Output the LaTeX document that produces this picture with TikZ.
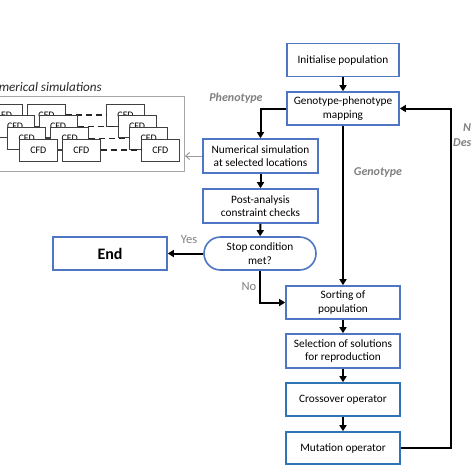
\documentclass[tikz,border=0pt]{standalone}
\usepackage{fontspec}
\setmainfont{Carlito}
\usetikzlibrary{arrows.meta,shapes.misc}
\definecolor{boxblue}{RGB}{79,118,196}
\definecolor{boxblueb}{RGB}{46,117,182}
\definecolor{lblgray}{RGB}{128,128,128}
\definecolor{cfdgray}{RGB}{64,64,64}
\tikzset{
  flowbox/.style={draw=boxblue, line width=1.6pt, fill=white, minimum width=112pt, minimum height=33pt, inner sep=1pt, align=center, font=\fontsize{11.3}{13.4}\selectfont},
  opbox/.style={flowbox, draw=boxblueb},
  decbox/.style={flowbox, rounded rectangle},
  flowarrow/.style={line width=2pt, -{Triangle[length=6pt,width=7pt]}},
  lbl/.style={text=lblgray, font=\fontsize{12}{14}\selectfont\itshape\bfseries, inner sep=0pt},
  yn/.style={text=lblgray, font=\fontsize{12.5}{14}\selectfont, inner sep=0pt},
  cfd/.style={draw=cfdgray, line width=0.9pt, fill=white, minimum width=38pt, minimum height=22pt, inner sep=0pt, font=\fontsize{10}{12}\selectfont},
  cfdtxt/.style={inner sep=0pt, font=\fontsize{10}{12}\selectfont},
  cfdline/.style={draw=cfdgray, line width=1pt},
  cfddash/.style={draw=black!85, line width=1.4pt, dash pattern=on 6pt off 4pt},
}
\begin{document}
\begin{tikzpicture}[x=1pt,y=-1pt]
\useasboundingbox (0,0) rectangle (474,474);
\clip (0,0) rectangle (474,474);
% CFD frame
\node[draw=black!35, line width=0.8pt, minimum width=213pt, minimum height=75pt, inner sep=0pt] (frame) at (78,133.5) {};
\node[anchor=east, inner sep=0pt, font=\fontsize{13.1}{15}\selectfont\itshape, text=black!85] (simtitle) at (102,86.5) {merical simulations};
% CFD stacks: back row (partly outside the picture)
\node[cfd] (a0) at (3.5,115) {};
\node[cfdtxt, anchor=base west] (a0t) at (1,118.5) {FD};
\node[cfd] (b0) at (46.5,115) {CFD};
\node[cfd] (c0) at (125.5,115) {CFD};
\draw[cfdline] (a0.east) -- (b0.west);
\draw[cfddash] (b0.east) -- (c0.west);
\foreach \k in {1,2,3}{
  \pgfmathsetmacro{\dx}{11.6*\k}
  \pgfmathsetmacro{\dy}{11.7*\k}
  \node[cfd] (a\k) at (3.5+\dx,115+\dy) {CFD};
  \node[cfd] (b\k) at (46.5+\dx,115+\dy) {CFD};
  \node[cfd] (c\k) at (125.5+\dx,115+\dy) {CFD};
  \draw[cfdline] (a\k.east) -- (b\k.west);
  \draw[cfddash] (b\k.east) -- (c\k.west);
}
% flow boxes
\node[flowbox] (init) at (343,60) {Initialise population};
\node[flowbox] (geno) at (343,108.5) {Genotype-phenotype\\mapping};
\node[flowbox, minimum width=115pt, minimum height=34pt] (numsim) at (260.5,156) {Numerical simulation\\at selected locations};
\node[flowbox, minimum width=115pt, minimum height=34pt] (post) at (260.5,206) {Post-analysis\\constraint checks};
\node[decbox, minimum width=114pt] (stop) at (260,253.5) {Stop condition\\met?};
\node[flowbox, minimum width=114pt, font=\fontsize{16}{18}\selectfont\bfseries] (endn) at (110,253.5) {End};
\node[flowbox, minimum width=114pt] (sort) at (343,302.5) {Sorting of\\population};
\node[flowbox, minimum width=114pt, minimum height=34pt] (sel) at (343,351) {Selection of solutions\\for reproduction};
\node[opbox, minimum width=114pt] (cross) at (343,399.5) {Crossover operator};
\node[opbox, minimum width=114pt, minimum height=32pt] (mut) at (343,448) {Mutation operator};
% labels
\node[lbl] (phen) at (236,98) {Phenotype};
\node[lbl] (gent) at (378,173) {Genotype};
\node[yn] (yes) at (189,240) {Yes};
\node[yn] (no) at (249,287) {No};
\node[lbl, anchor=west] (newn) at (463,128) {N};
\node[lbl, anchor=west] (newd) at (453,143) {Des};
% connectors
\draw[flowarrow] (init) -- (geno);
\draw[flowarrow] (geno.west) -| (numsim.north);
\draw[flowarrow] (numsim) -- (post);
\draw[flowarrow] (post) -- (stop);
\draw[flowarrow] (stop.west) -- (endn.east);
\draw[flowarrow] (stop.south) |- (sort.west);
\draw[flowarrow] (geno.south) -- (sort.north);
\draw[flowarrow] (sort) -- (sel);
\draw[flowarrow] (sel) -- (cross);
\draw[flowarrow] (cross) -- (mut);
\coordinate (rt) at (451,448);
\draw[flowarrow] (mut.east) -- (rt) |- (geno.east);
\draw[line width=1pt, draw=black!40, -{Straight Barb[length=4pt,width=7pt]}] (numsim.west) -- (numsim.west -| frame.east);
\end{tikzpicture}
\end{document}
